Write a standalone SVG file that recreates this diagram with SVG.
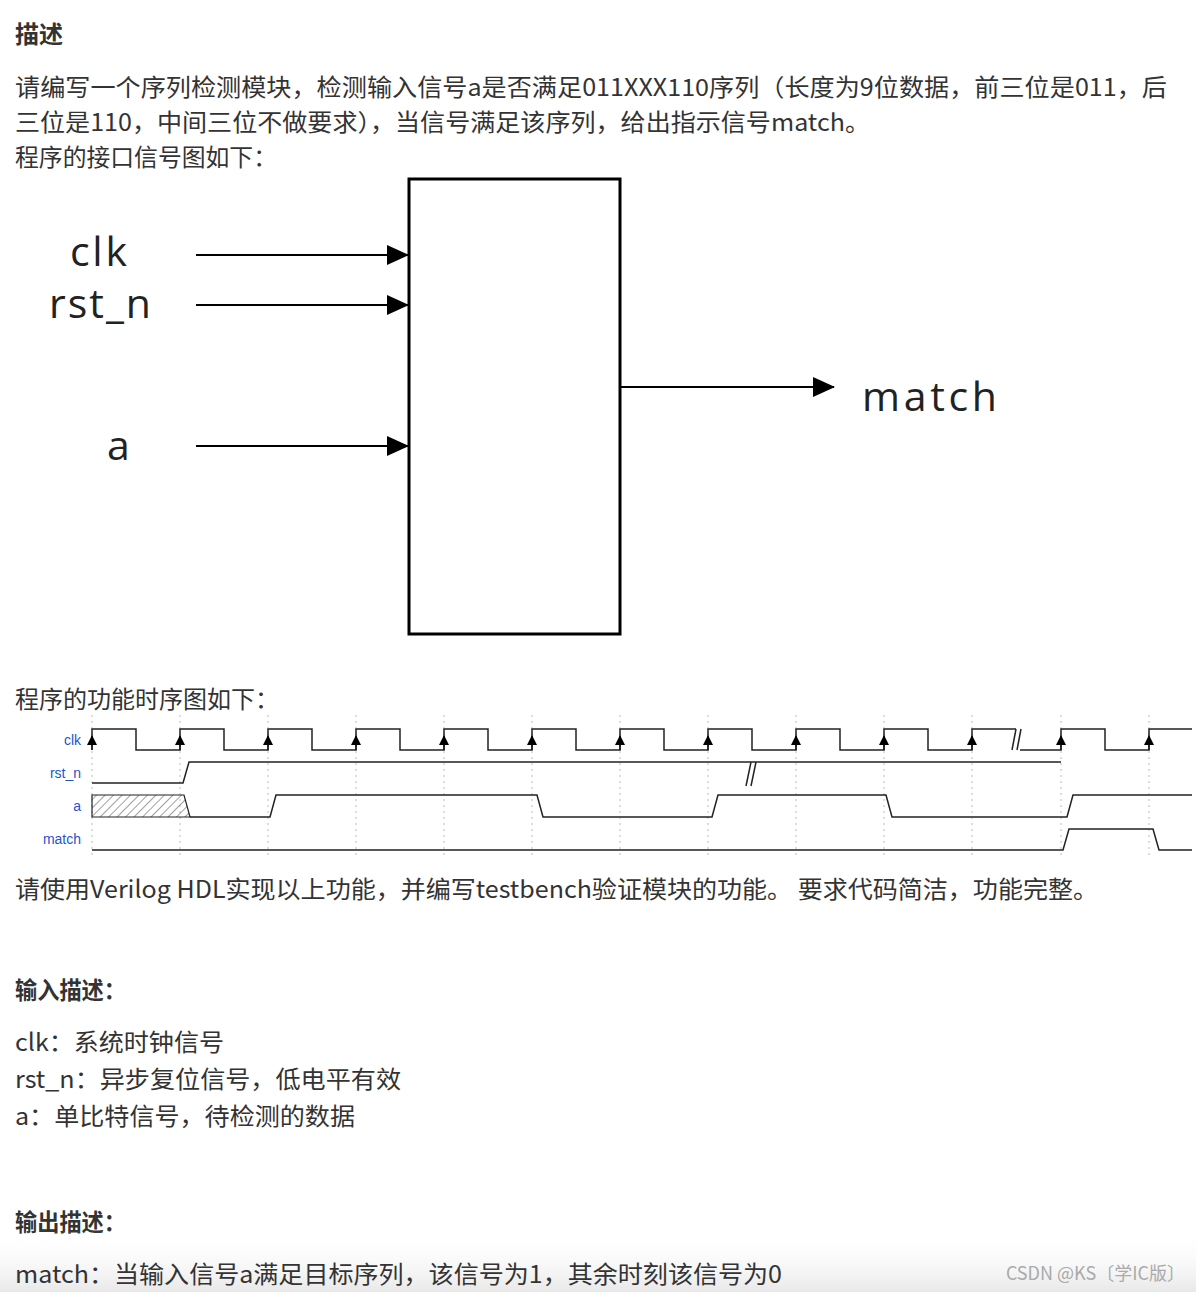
<svg xmlns="http://www.w3.org/2000/svg" width="1196" height="1292" viewBox="0 0 1196 1292">
<style>
.t{font-family:"Noto Sans CJK SC","Noto Sans",sans-serif;font-size:24px;fill:#333}
.b{font-weight:bold}
.big{font-family:"Open Sans","Noto Sans",sans-serif;font-size:41px;fill:#222}
.lbl{font-family:"Liberation Sans",Arial,sans-serif;font-size:14px;fill:#2255cc;text-anchor:end}
.w{fill:none;stroke:#222;stroke-width:1.5}
.g{stroke:#bbb;stroke-width:1;stroke-dasharray:2 4}
</style>
<defs>
<marker id="ah" markerWidth="10" markerHeight="10" refX="9" refY="5" orient="auto" markerUnits="userSpaceOnUse"><path d="M0,0L10,5L0,10z" fill="#000"/></marker>
<marker id="big" markerWidth="22" markerHeight="22" refX="21" refY="11" orient="auto" markerUnits="userSpaceOnUse"><path d="M0,1L22,11L0,21z" fill="#000"/></marker>
<pattern id="hatch" width="6" height="6" patternUnits="userSpaceOnUse" patternTransform="rotate(45)"><line x1="0" y1="0" x2="0" y2="6" stroke="#444" stroke-width="1"/></pattern>
<linearGradient id="fade" x1="0" y1="0" x2="0" y2="1"><stop offset="0" stop-color="#fff" stop-opacity="0"/><stop offset="1" stop-color="#e8e8e8"/></linearGradient>
</defs>
<rect width="1196" height="1292" fill="#fff"/>
<g id="text">
<text class="t b" x="15" y="43">描述</text>
<text class="t" x="15" y="96" textLength="1152" lengthAdjust="spacingAndGlyphs">请编写一个序列检测模块，检测输入信号a是否满足011XXX110序列（长度为9位数据，前三位是011，后</text>
<text class="t" x="15" y="131" textLength="855" lengthAdjust="spacingAndGlyphs">三位是110，中间三位不做要求），当信号满足该序列，给出指示信号match。</text>
<text class="t" x="15" y="166" textLength="262" lengthAdjust="spacingAndGlyphs">程序的接口信号图如下：</text>
<text class="t" x="15" y="708" textLength="264" lengthAdjust="spacingAndGlyphs">程序的功能时序图如下：</text>
<text class="t" x="15" y="898" textLength="1083" lengthAdjust="spacingAndGlyphs">请使用Verilog HDL实现以上功能，并编写testbench验证模块的功能。 要求代码简洁，功能完整。</text>
<text class="t b" x="15" y="999" textLength="111" lengthAdjust="spacingAndGlyphs">输入描述：</text>
<text class="t" x="15" y="1051" textLength="209" lengthAdjust="spacingAndGlyphs">clk：系统时钟信号</text>
<text class="t" x="15" y="1088" textLength="386" lengthAdjust="spacingAndGlyphs">rst_n：异步复位信号，低电平有效</text>
<text class="t" x="15" y="1125" textLength="340" lengthAdjust="spacingAndGlyphs">a：单比特信号，待检测的数据</text>
<text class="t b" x="15" y="1231" textLength="111" lengthAdjust="spacingAndGlyphs">输出描述：</text>
</g>
<rect x="0" y="1230" width="1196" height="62" fill="url(#fade)"/>
<text class="t" x="15" y="1283" textLength="767" lengthAdjust="spacingAndGlyphs">match：当输入信号a满足目标序列，该信号为1，其余时刻该信号为0</text>
<text x="1185" y="1280" text-anchor="end" style="font-family:'Noto Sans CJK SC',sans-serif;font-size:18px;fill:#aaa">CSDN @KS〔学IC版〕</text>
<g id="block">
<rect x="409" y="179" width="211" height="455" fill="#fff" stroke="#000" stroke-width="3"/>
<text class="big" x="70" y="266" textLength="57">clk</text>
<text class="big" x="49" y="318" textLength="102">rst_n</text>
<text class="big" x="107" y="460">a</text>
<text class="big" x="862" y="411" textLength="135">match</text>
</g>
<g id="connectors" stroke="#000" stroke-width="2">
<line x1="196" y1="255" x2="408" y2="255" marker-end="url(#big)"/>
<line x1="196" y1="305" x2="408" y2="305" marker-end="url(#big)"/>
<line x1="196" y1="446" x2="408" y2="446" marker-end="url(#big)"/>
<line x1="621" y1="387" x2="834" y2="387" marker-end="url(#big)"/>
</g>
<g id="timing">
<g class="g">
<line x1="92" y1="715" x2="92" y2="858"/><line x1="180" y1="715" x2="180" y2="858"/><line x1="268" y1="715" x2="268" y2="858"/><line x1="356" y1="715" x2="356" y2="858"/><line x1="444" y1="715" x2="444" y2="858"/><line x1="532" y1="715" x2="532" y2="858"/><line x1="620" y1="715" x2="620" y2="858"/><line x1="708" y1="715" x2="708" y2="858"/><line x1="796" y1="715" x2="796" y2="858"/><line x1="884" y1="715" x2="884" y2="858"/><line x1="972" y1="715" x2="972" y2="858"/><line x1="1061" y1="715" x2="1061" y2="858"/><line x1="1149" y1="715" x2="1149" y2="858"/>
</g>
<text class="lbl" x="81" y="745">clk</text>
<text class="lbl" x="81" y="778">rst_n</text>
<text class="lbl" x="81" y="811">a</text>
<text class="lbl" x="81" y="844">match</text>
<path class="w" d="M92,750V729H136V750H180V729H224V750H268V729H312V750H356V729H400V750H444V729H488V750H532V729H576V750H620V729H664V750H708V729H752V750H796V729H840V750H884V729H928V750H972V729H1016M1020,750H1061V729H1105V750H1149V729H1192"/>
<path class="w" d="M1012,750L1016,729M1017,750L1021,729" stroke-width="1.2"/>
<g stroke="#000" stroke-width="1">
<line x1="92" y1="750" x2="92" y2="736" marker-end="url(#ah)"/><line x1="180" y1="750" x2="180" y2="736" marker-end="url(#ah)"/><line x1="268" y1="750" x2="268" y2="736" marker-end="url(#ah)"/><line x1="356" y1="750" x2="356" y2="736" marker-end="url(#ah)"/><line x1="444" y1="750" x2="444" y2="736" marker-end="url(#ah)"/><line x1="532" y1="750" x2="532" y2="736" marker-end="url(#ah)"/><line x1="620" y1="750" x2="620" y2="736" marker-end="url(#ah)"/><line x1="708" y1="750" x2="708" y2="736" marker-end="url(#ah)"/><line x1="796" y1="750" x2="796" y2="736" marker-end="url(#ah)"/><line x1="884" y1="750" x2="884" y2="736" marker-end="url(#ah)"/><line x1="972" y1="750" x2="972" y2="736" marker-end="url(#ah)"/><line x1="1061" y1="750" x2="1061" y2="736" marker-end="url(#ah)"/><line x1="1149" y1="750" x2="1149" y2="736" marker-end="url(#ah)"/>
</g>
<path class="w" d="M92,783H183L189,762H1061"/>
<path class="w" d="M746,786L751,762M751,786L756,762" stroke-width="1.2"/>
<path d="M92,795H184L190,817H92Z" fill="url(#hatch)" stroke="#222" stroke-width="1.2"/>
<path class="w" d="M190,817H270L276,795H537L543,817H712L718,795H886L892,817H1067L1073,795H1192"/>
<path class="w" d="M92,850H1063L1069,829H1153L1159,850H1192"/>
</g>
</svg>
